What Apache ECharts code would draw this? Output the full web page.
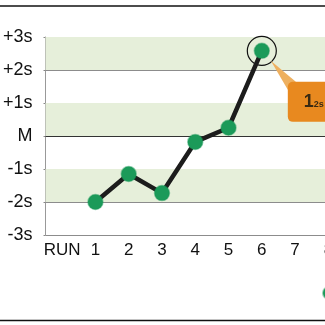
<!DOCTYPE html>
<html>
<head>
<meta charset="utf-8">
<script src="https://cdn.jsdelivr.net/npm/echarts@6/dist/echarts.min.js"></script>
<style>
html,body{margin:0;padding:0;background:#fff;overflow:hidden;width:325px;height:325px;}
#c{width:360px;height:325px;}
</style>
</head>
<body>
<div id="c"></div>
<script>
const categories = ['RUN','1','2','3','4','5','6','7','8'];
const runs = ['1','2','3','4','5','6'];
const values = [-2.0, -1.15, -1.73, -0.18, 0.25, 2.58];
const yTickValues = [-3,-2,-1,0,1,2,3];
const yTickLabels = ['-3s','-2s','-1s','M','+1s','+2s','+3s'];
const bands = [[2,3],[0,1],[-2,-1]];
const seriesName = 'Run result';
const ruleMain = '1';
const ruleSub = '2s';

const chart = echarts.init(document.getElementById('c'), null, {renderer:'canvas'});
const fontFamily = '"Liberation Sans", Arial, Helvetica, sans-serif';

chart.setOption({
  animation:false,
  backgroundColor:'#fff',
  grid:{left:39, top:37, height:198, width:306},
  legend:{
    data:[seriesName], left:317, top:281, icon:'circle', itemWidth:12, itemHeight:12,
    textStyle:{fontFamily:fontFamily, fontSize:13, color:'#222'}
  },
  xAxis:{
    type:'category', data:categories, boundaryGap:true,
    axisLine:{show:true, lineStyle:{color:'#333', width:1.2}},
    axisTick:{show:false},
    axisLabel:{color:'#111', fontSize:17, fontFamily:fontFamily, margin:7, interval:0},
    splitLine:{show:false}
  },
  yAxis:{
    type:'value', min:-3, max:3, interval:1,
    axisLine:{show:true, lineStyle:{color:'#999', width:1}},
    axisTick:{show:true, length:2, lineStyle:{color:'#888'}},
    axisLabel:{
      color:'#111', fontSize:18, fontFamily:fontFamily, margin:13,
      formatter:function(v){ const i = yTickValues.indexOf(Math.round(v)); return i>=0 ? yTickLabels[i] : ''; }
    },
    splitLine:{show:true, lineStyle:{color:'#8c8c8c', width:1}}
  },
  series:[{
    name:seriesName,
    type:'line',
    data:runs.map((r,i)=>[r, values[i]]),
    lineStyle:{color:'#1c1c1c', width:4.5},
    symbol:'circle', symbolSize:15,
    itemStyle:{color:'#1b9a59', borderColor:'rgba(27,154,89,0.45)', borderWidth:1.5},
    z:5,
    markArea:{
      silent:true,
      itemStyle:{color:'#e6efda'},
      data:bands.map(b=>[{yAxis:b[0]},{yAxis:b[1]}])
    },
    markPoint:{
      silent:true,
      symbol:'circle', symbolSize:29,
      itemStyle:{color:'rgba(0,0,0,0)', borderColor:'#111', borderWidth:1.2},
      label:{show:false},
      data:[{type:'max'}]
    }
  }]
});

// annotation callout anchored to the max point via the library's scales
let mi = 0;
values.forEach((v,i)=>{ if (v > values[mi]) mi = i; });
const p = chart.convertToPixel({seriesIndex:0}, [categories.indexOf(runs[mi]), values[mi]]);
const boxL = p[0] + 26, boxT = p[1] + 31;
chart.setOption({
  graphic:[
    {type:'line', shape:{x1:0,y1:6,x2:360,y2:6}, style:{stroke:'#111', lineWidth:1.5}, z:10},
    {type:'line', shape:{x1:0,y1:320.5,x2:360,y2:320.5}, style:{stroke:'#111', lineWidth:1.5}, z:10},
    {type:'polygon', shape:{points:[[p[0]+9,p[1]+10],[boxL,boxT+8],[boxL+8,boxT]]}, style:{fill:'#eeb060'}, z:20},
    {type:'rect', shape:{x:boxL, y:boxT, width:62, height:40, r:5}, style:{fill:'#e8891f'}, z:21},
    {type:'text', x:boxL+16, y:boxT+20, style:{
      text:'{a|'+ruleMain+'}{b|'+ruleSub+'}',
      verticalAlign:'middle', align:'left',
      rich:{
        a:{fontSize:18, fontWeight:'bold', fill:'#3a2a12', fontFamily:fontFamily},
        b:{fontSize:9, fontWeight:'bold', fill:'#3a2a12', fontFamily:fontFamily, padding:[6,0,0,0]}
      }
    }, z:22}
  ]
});
</script>
</body>
</html>
